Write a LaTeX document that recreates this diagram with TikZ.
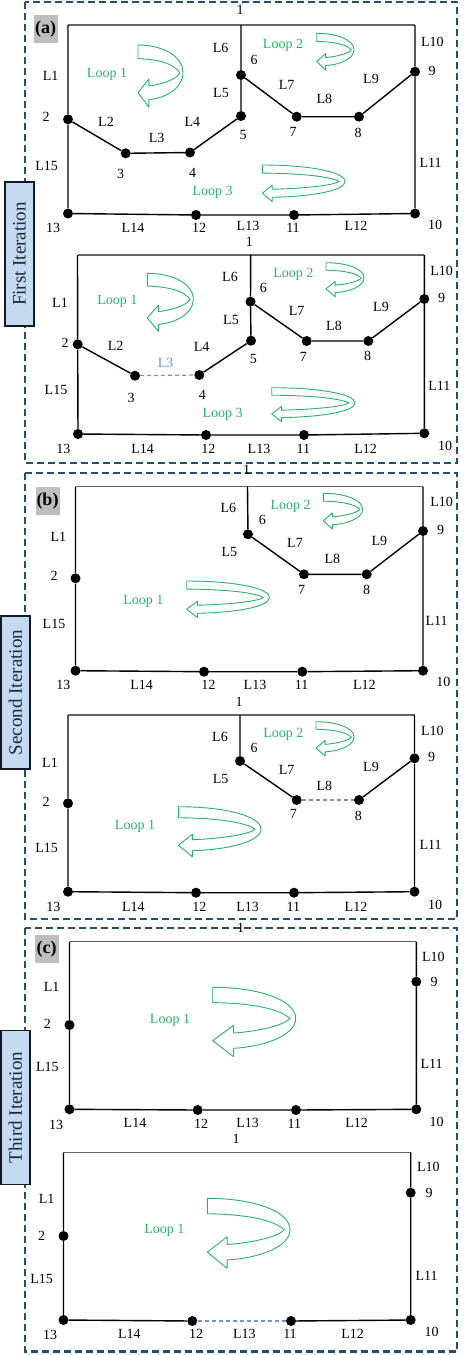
\documentclass[tikz,border=0pt]{standalone}
\usepackage{fontspec}
\setmainfont{Liberation Serif}
\definecolor{loopgreen}{RGB}{40,178,108}
\definecolor{panelblue}{RGB}{31,78,121}
\definecolor{boxfill}{RGB}{197,217,241}
\definecolor{boxborder}{RGB}{20,25,40}
\definecolor{boxtext}{RGB}{30,40,60}
\definecolor{taggray}{RGB}{190,190,190}
\definecolor{topgray}{RGB}{100,100,100}
\definecolor{cutblue}{RGB}{110,150,210}
\definecolor{cutgray}{RGB}{135,145,175}
\tikzset{
 edge/.style={line width=1.4pt, black},
 topedge/.style={line width=1.3pt, color=topgray},
 dot/.style={circle, fill=black, inner sep=0pt, minimum size=10pt},
 lab/.style={font=\fontsize{14}{16}\selectfont, inner sep=0pt},
 looptext/.style={font=\fontsize{14}{16}\selectfont, text=loopgreen, inner sep=0pt},
 looparr/.style={draw=loopgreen, line width=0.9pt, fill=white, line join=round},
 panel/.style={draw=panelblue, line width=2.2pt, dash pattern=on 7pt off 4pt},
 itbox/.style={draw=boxborder, fill=boxfill, line width=1.8pt, rotate=90, font=\fontsize{19}{21}\selectfont, text=boxtext, inner sep=0pt, minimum height=29pt},
 tagbox/.style={fill=taggray, font=\bfseries\fontsize{18}{20}\selectfont, inner sep=0pt, minimum width=24pt, minimum height=28pt},
 cutedge/.style={line width=1.2pt, dash pattern=on 4pt off 3pt, color=cutblue},
}
\newcommand{\lb}[3]{\node[lab] (#1) at (#2) {#3};}
\newcommand{\dt}[2]{\node[dot] (#1) at (#2) {};}
\newcommand{\looparrow}[5]{%
 \draw[looparr, shift={(#1,#2)}, xscale=#3, yscale=#4] (0,0) .. controls (0.55,0) and (1,0.18) .. (1,0.45) .. controls (1,0.7) and (0.6,0.86) .. (#5,0.88) -- (#5,1) -- (0,0.77) -- (#5,0.55) -- (#5,0.66) .. controls (0.5,0.64) and (0.85,0.56) .. (0.93,0.45) .. controls (0.8,0.3) and (0.45,0.23) .. (0,0.22) -- cycle;}
\begin{document}
\begin{tikzpicture}[x=1pt,y=-1pt]
\useasboundingbox (0,0) rectangle (474,1355);
% panels
\draw[panel] (25,2) rectangle (457,463);
\draw[panel] (25,473) rectangle (457,919);
\draw[panel] (25,928) rectangle (457,1351.5);
\node[itbox, minimum width=144pt] (it1) at (19.5,254) {First Iteration};
\node[itbox, minimum width=153pt] (it2) at (15.5,692.5) {Second Iteration};
\node[itbox, minimum width=154pt] (it3) at (15.5,1107.5) {Third Iteration};
\node[tagbox] (tagA) at (45.5,29) {(a)};
\node[tagbox] (tagB) at (47.5,501) {(b)};
\node[tagbox] (tagC) at (46.7,948.7) {(c)};

% ===== Diagram A (panel a, top)
\coordinate (A-tl) at (68,25); \coordinate (A-tr) at (415,25); \coordinate (A-t) at (241,25);
\dt{A-2}{68,119.3} \dt{A-3}{125.7,153.3} \dt{A-4}{190,152.5} \dt{A-5}{241,116}
\dt{A-6}{241,75} \dt{A-7}{296.7,116.7} \dt{A-8}{359,116.7} \dt{A-9}{415,71.7}
\dt{A-10}{415,213.5} \dt{A-11}{294,215} \dt{A-12}{196,215} \dt{A-13}{68,213.5}
\draw[topedge] (A-tl) -- (A-tr);
\draw[edge] (A-tl) -- (A-2) -- (A-13) -- (A-12) -- (A-11) -- (A-10) -- (A-9) -- (A-tr);
\draw[edge] (A-2) -- (A-3) -- (A-4) -- (A-5) -- (A-6) -- (A-t);
\draw[edge] (A-6) -- (A-7) -- (A-8) -- (A-9);
\lb{A-p1}{240,10}{1} \lb{A-p2}{46,117}{2} \lb{A-p3}{120.7,174}{3} \lb{A-p4}{192.7,172.7}{4}
\lb{A-p5}{243,135}{5} \lb{A-p6}{254,60}{6} \lb{A-p7}{293,131.7}{7} \lb{A-p8}{358,132.7}{8}
\lb{A-p9}{432,71}{9} \lb{A-p10}{435,225}{10} \lb{A-p11}{293,228}{11} \lb{A-p12}{199,228}{12}
\lb{A-p13}{53,228}{13}
\lb{A-L1}{50.7,76}{L1} \lb{A-L2}{106,121.7}{L2} \lb{A-L3}{156.7,138.3}{L3} \lb{A-L4}{192.3,122.3}{L4}
\lb{A-L5}{221,93.3}{L5} \lb{A-L6}{220.7,47.7}{L6} \lb{A-L7}{286.7,85}{L7} \lb{A-L8}{324.3,99.3}{L8}
\lb{A-L9}{371,79.3}{L9} \lb{A-L10}{432.3,41.7}{L10} \lb{A-L11}{430.7,162.7}{L11} \lb{A-L12}{356,226}{L12}
\lb{A-L13}{248,226}{L13} \lb{A-L14}{133,228}{L14} \lb{A-L15}{46.7,165.7}{L15}
\node[looptext] (A-lp1) at (107,74) {Loop 1};
\node[looptext] (A-lp2) at (283,45.7) {Loop 2};
\node[looptext] (A-lp3) at (212.7,192.7) {Loop 3};
\looparrow{138}{45}{45}{62}{0.24}
\looparrow{316.7}{33.3}{37.3}{36.7}{0.24}
\looparrow{262.3}{165}{82.7}{36.7}{0.12}

% ===== Diagram B (panel a, bottom)
\coordinate (B-tl) at (77.5,255); \coordinate (B-tr) at (424.3,255); \coordinate (B-t) at (250.7,255);
\dt{B-2}{77.7,344.3} \dt{B-3}{135,375.7} \dt{B-4}{199.3,375} \dt{B-5}{251,340.7}
\dt{B-6}{250.5,301.7} \dt{B-7}{306.7,341} \dt{B-8}{368.3,341} \dt{B-9}{424.3,299}
\dt{B-10}{424.3,433.3} \dt{B-11}{304,435} \dt{B-12}{206,435} \dt{B-13}{78,434}
\draw[topedge] (B-tl) -- (B-tr);
\draw[edge] (B-tl) -- (B-2) -- (B-13) -- (B-12) -- (B-11) -- (B-10) -- (B-9) -- (B-tr);
\draw[edge] (B-2) -- (B-3);
\draw[cutedge] (B-3) -- (B-4);
\draw[edge] (B-4) -- (B-5) -- (B-6) -- (B-t);
\draw[edge] (B-6) -- (B-7) -- (B-8) -- (B-9);
\lb{B-p1}{249.3,241.7}{1} \lb{B-p2}{65,342.7}{2} \lb{B-p3}{131,397.7}{3} \lb{B-p4}{202.3,395}{4}
\lb{B-p5}{253.3,359.3}{5} \lb{B-p6}{263.3,287.7}{6} \lb{B-p7}{303.3,356.7}{7} \lb{B-p8}{367.7,356}{8}
\lb{B-p9}{441.7,298.3}{9} \lb{B-p10}{445,446}{10} \lb{B-p11}{303.3,448.7}{11} \lb{B-p12}{208.3,448.7}{12}
\lb{B-p13}{63.3,448.7}{13}
\lb{B-L1}{60,303.3}{L1} \lb{B-L2}{115.7,345.7}{L2} \node[lab, text=cutblue] (B-L3) at (165.7,363.3) {L3}; \lb{B-L4}{201.7,346.7}{L4}
\lb{B-L5}{231,320}{L5} \lb{B-L6}{230,276.7}{L6} \lb{B-L7}{296.7,310.7}{L7} \lb{B-L8}{334,326}{L8}
\lb{B-L9}{381,307.3}{L9} \lb{B-L10}{441.7,270.7}{L10} \lb{B-L11}{439.3,386}{L11} \lb{B-L12}{365.7,448.7}{L12}
\lb{B-L13}{259,448.7}{L13} \lb{B-L14}{142.7,448.7}{L14} \lb{B-L15}{56,390}{L15}
\node[looptext] (B-lp1) at (117.3,301) {Loop 1};
\node[looptext] (B-lp2) at (293.3,274.3) {Loop 2};
\node[looptext] (B-lp3) at (222.7,414.3) {Loop 3};
\looparrow{147.3}{273.3}{46}{58}{0.24}
\looparrow{326}{262.7}{38}{34}{0.24}
\looparrow{271.7}{387.7}{83.3}{34}{0.12}

% ===== Diagram C (panel b, top)
\coordinate (C-tl) at (75.5,486.7); \coordinate (C-tr) at (423,486.7); \coordinate (C-t) at (247.5,486.7);
\dt{C-2}{75.5,578.3} \dt{C-6}{248,534.3} \dt{C-7}{304,574.3} \dt{C-8}{366.7,574.3}
\dt{C-9}{423,531} \dt{C-10}{423,670.7} \dt{C-11}{302.3,671.7} \dt{C-12}{204,671.7} \dt{C-13}{75.5,670.7}
\draw[topedge] (C-tl) -- (C-tr);
\draw[edge] (C-tl) -- (C-2) -- (C-13) -- (C-12) -- (C-11) -- (C-10) -- (C-9) -- (C-tr);
\draw[edge] (C-t) -- (C-6) -- (C-7) -- (C-8) -- (C-9);
\lb{C-p1}{246.7,470}{1} \lb{C-p2}{54,575.7}{2} \lb{C-p6}{262.3,520}{6} \lb{C-p7}{301.7,590}{7}
\lb{C-p8}{366.7,590}{8} \lb{C-p9}{440.7,530}{9} \lb{C-p10}{443.3,682.3}{10} \lb{C-p11}{301.7,685}{11}
\lb{C-p12}{208.3,685}{12} \lb{C-p13}{63.3,685}{13}
\lb{C-L1}{58.3,536.7}{L1} \lb{C-L15}{54,624.3}{L15} \lb{C-L5}{229.3,551.7}{L5} \lb{C-L6}{228.3,507.7}{L6}
\lb{C-L7}{295,543.3}{L7} \lb{C-L8}{332.3,559.3}{L8} \lb{C-L9}{379.3,541}{L9} \lb{C-L10}{441.7,501.7}{L10}
\lb{C-L11}{436.7,620.7}{L11} \lb{C-L14}{141.7,685}{L14} \lb{C-L13}{255,685}{L13} \lb{C-L12}{364.3,685}{L12}
\node[looptext] (C-lp1) at (143.3,601.7) {Loop 1};
\node[looptext] (C-lp2) at (290.7,506.7) {Loop 2};
\looparrow{186.7}{581}{82.7}{36.7}{0.13}
\looparrow{323.3}{493.3}{39.3}{35.7}{0.23}

% ===== Diagram D (panel b, bottom)
\coordinate (D-tl) at (68,715); \coordinate (D-tr) at (414.5,715); \coordinate (D-t) at (240,715);
\dt{D-2}{68,803.3} \dt{D-6}{240,761} \dt{D-7}{296.7,800} \dt{D-8}{359,800}
\dt{D-9}{414.5,758.3} \dt{D-10}{414.5,891.7} \dt{D-11}{294,892.7} \dt{D-12}{196,892.7} \dt{D-13}{68,891.7}
\draw[topedge] (D-tl) -- (D-tr);
\draw[edge] (D-tl) -- (D-2) -- (D-13) -- (D-12) -- (D-11) -- (D-10) -- (D-9) -- (D-tr);
\draw[edge] (D-t) -- (D-6) -- (D-7);
\draw[cutedge, color=cutgray] (D-7) -- (D-8);
\draw[edge] (D-8) -- (D-9);
\lb{D-p1}{239,701.7}{1} \lb{D-p2}{46,801.7}{2} \lb{D-p6}{254,747.7}{6} \lb{D-p7}{293.3,814}{7}
\lb{D-p8}{358.3,815.7}{8} \lb{D-p9}{431.7,757.3}{9} \lb{D-p10}{435,905}{10} \lb{D-p11}{293.3,907.3}{11}
\lb{D-p12}{199.3,907.3}{12} \lb{D-p13}{53.3,907.3}{13}
\lb{D-L1}{50,763.3}{L1} \lb{D-L15}{46.7,847.7}{L15} \lb{D-L5}{220.7,779.3}{L5} \lb{D-L6}{220,736.7}{L6}
\lb{D-L7}{286.7,770}{L7} \lb{D-L8}{324.3,786}{L8} \lb{D-L9}{371,767.3}{L9} \lb{D-L10}{432.3,730.7}{L10}
\lb{D-L11}{430.7,845}{L11} \lb{D-L14}{133.3,906.7}{L14} \lb{D-L13}{247.7,906.7}{L13} \lb{D-L12}{356,906.7}{L12}
\node[looptext] (D-lp1) at (135,826.7) {Loop 1};
\node[looptext] (D-lp2) at (283.3,734.3) {Loop 2};
\looparrow{178.3}{806.7}{82.7}{50}{0.17}
\looparrow{316}{721.7}{38}{34.3}{0.24}

% ===== Diagram E (panel c, top)
\coordinate (E-tl) at (69.5,941.7); \coordinate (E-tr) at (416.3,941.7);
\dt{E-2}{69.5,1025} \dt{E-9}{416.3,981.7} \dt{E-10}{416.3,1109.3} \dt{E-11}{296,1110}
\dt{E-12}{197.7,1110} \dt{E-13}{69.5,1109.3}
\draw[topedge] (E-tl) -- (E-tr);
\draw[edge] (E-tl) -- (E-2) -- (E-13) -- (E-12) -- (E-11) -- (E-10) -- (E-9) -- (E-tr);
\lb{E-p1}{240.7,928.3}{1} \lb{E-p2}{47.3,1024}{2} \lb{E-p9}{434,981.7}{9} \lb{E-p10}{436.7,1121.7}{10}
\lb{E-p11}{294.3,1124.3}{11} \lb{E-p12}{201,1124.3}{12} \lb{E-p13}{56,1125}{13}
\lb{E-L1}{51.7,987.3}{L1} \lb{E-L15}{47.3,1067.3}{L15} \lb{E-L10}{433.3,956.7}{L10} \lb{E-L11}{431.7,1064}{L11}
\lb{E-L14}{135,1122.7}{L14} \lb{E-L13}{247.7,1122.7}{L13} \lb{E-L12}{356.7,1122.7}{L12}
\node[looptext] (E-lp1) at (170,1020.7) {Loop 1};
\looparrow{212.7}{987.3}{83}{69.3}{0.25}

% ===== Diagram F (panel c, bottom)
\coordinate (F-tl) at (63.5,1152.3); \coordinate (F-tr) at (410.7,1152.3);
\dt{F-2}{63.5,1236} \dt{F-9}{410.7,1192.7} \dt{F-10}{410.7,1320} \dt{F-11}{291,1321}
\dt{F-12}{192.3,1321} \dt{F-13}{63.5,1320}
\draw[topedge] (F-tl) -- (F-tr);
\draw[edge] (F-tl) -- (F-2) -- (F-13) -- (F-12);
\draw[cutedge] (F-12) -- (F-11);
\draw[edge] (F-11) -- (F-10) -- (F-9) -- (F-tr);
\lb{F-p1}{236,1139.3}{1} \lb{F-p2}{41.7,1236}{2} \lb{F-p9}{429,1192.7}{9} \lb{F-p10}{431.7,1331.7}{10}
\lb{F-p11}{290,1334.3}{11} \lb{F-p12}{196,1334.3}{12} \lb{F-p13}{50,1335}{13}
\lb{F-L1}{46.7,1199.3}{L1} \lb{F-L15}{41.7,1279.3}{L15} \lb{F-L10}{428.3,1167.3}{L10} \lb{F-L11}{426.7,1275.7}{L11}
\lb{F-L14}{129.3,1334.3}{L14} \lb{F-L13}{244.3,1334.3}{L13} \lb{F-L12}{352.7,1334.3}{L12}
\node[looptext] (F-lp1) at (164.3,1230.7) {Loop 1};
\looparrow{207.3}{1198.3}{82.7}{70}{0.24}
\end{tikzpicture}
\end{document}
